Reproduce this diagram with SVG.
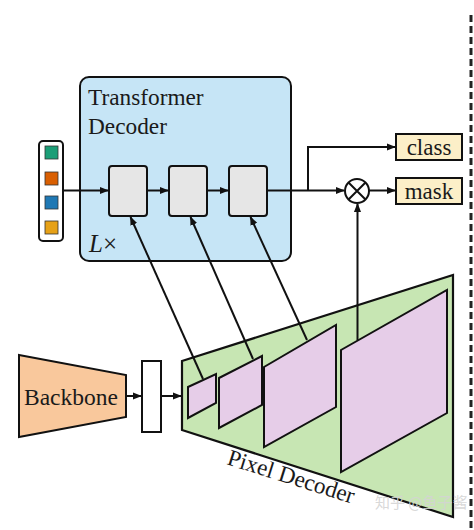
<svg xmlns="http://www.w3.org/2000/svg" width="474" height="530" viewBox="0 0 474 530">
<defs>
<marker id="ah" viewBox="0 0 10 10" refX="9" refY="5" markerWidth="4.5" markerHeight="4.5" orient="auto" markerUnits="strokeWidth"><path d="M0,1 L10,5 L0,9 z" fill="#111"/></marker>
<style>
.ln{fill:none;stroke:#111;stroke-width:2}
.t{font-family:"Liberation Serif","Times New Roman",serif;fill:#1a1a1a}
.blk{fill:#e6e6e6;stroke:#111;stroke-width:2}
.pk{fill:#e6cde8;stroke:#111;stroke-width:2;stroke-linejoin:miter}
.out{fill:#fcefc8;stroke:#111;stroke-width:2}
</style>
</defs>
<rect width="474" height="530" fill="#fff"/>
<line x1="471" y1="15" x2="471" y2="530" stroke="#222" stroke-width="3" stroke-dasharray="7 4"/>

<g id="transformer-decoder">
<rect x="80" y="77" width="211" height="184" rx="9" fill="#c6e5f6" stroke="#111" stroke-width="2"/>
<text class="t" x="88" y="105" font-size="23.3">Transformer</text>
<text class="t" x="88" y="134" font-size="23.3">Decoder</text>
<text class="t" x="89" y="252" font-size="25"><tspan font-style="italic">L</tspan>×</text>
</g>
<g id="queries">
<rect x="39" y="141" width="24" height="100" rx="4" fill="#fff" stroke="#111" stroke-width="2"/>
<rect x="45" y="146" width="13" height="13" fill="#1b9e77" stroke="#333" stroke-width="0.8"/>
<rect x="45" y="172" width="13" height="13" fill="#d95f02" stroke="#333" stroke-width="0.8"/>
<rect x="45" y="196" width="13" height="13" fill="#1f78b4" stroke="#333" stroke-width="0.8"/>
<rect x="45" y="221" width="13" height="13" fill="#e6a117" stroke="#333" stroke-width="0.8"/>
</g>
<g id="block1"><rect class="blk" x="109" y="166" width="38" height="50" rx="3"/></g>
<g id="block2"><rect class="blk" x="169" y="166" width="38" height="50" rx="3"/></g>
<g id="block3"><rect class="blk" x="229" y="166" width="38" height="50" rx="3"/></g>

<g id="class"><rect class="out" x="396" y="134" width="66" height="26"/><text class="t" x="429" y="155" font-size="23" text-anchor="middle">class</text></g>
<g id="mask"><rect class="out" x="396" y="178" width="66" height="26"/><text class="t" x="429" y="199" font-size="23" text-anchor="middle">mask</text></g>
<g id="multiply">
<circle cx="357" cy="191" r="12" fill="#fff" stroke="#111" stroke-width="2"/>
<path d="M348.5,182.5 L365.5,199.5 M365.5,182.5 L348.5,199.5" stroke="#111" stroke-width="2"/>
</g>

<g id="backbone">
<polygon points="19,355 126,375 126,417 19,437" fill="#f9c89c" stroke="#111" stroke-width="2"/>
<text class="t" x="71" y="405" font-size="23.5" text-anchor="middle">Backbone</text>
</g>
<g id="feature"><rect x="142" y="361" width="19" height="71" fill="#fff" stroke="#111" stroke-width="2"/></g>

<g id="pixel-decoder">
<polygon points="182,361 453,275 453,517 182,430" fill="#c7e6b3" stroke="#111" stroke-width="2.2"/>
<polygon class="pk" points="188,387 216,374 216,403 188,418"/>
<polygon class="pk" points="219,378 262,356 262,405 219,428"/>
<polygon class="pk" points="264,367 336,325 336,407 264,447"/>
<polygon class="pk" points="341,350 447,290 447,413 341,472"/>
<text class="t" x="226" y="464" font-size="23.2" transform="rotate(17.5 226 464)">Pixel Decoder</text>
</g>

<g id="connectors">
<line class="ln" x1="63" y1="190.5" x2="108" y2="190.5" marker-end="url(#ah)"/>
<line class="ln" x1="147" y1="190.5" x2="168" y2="190.5" marker-end="url(#ah)"/>
<line class="ln" x1="207" y1="190.5" x2="228" y2="190.5" marker-end="url(#ah)"/>
<line class="ln" x1="267" y1="190.5" x2="344" y2="190.5" marker-end="url(#ah)"/>
<polyline class="ln" points="308,190.5 308,147 395,147" marker-end="url(#ah)"/>
<line class="ln" x1="369" y1="190.5" x2="395" y2="190.5" marker-end="url(#ah)"/>
<line class="ln" x1="357.5" y1="340" x2="357.5" y2="204" marker-end="url(#ah)"/>
<line class="ln" x1="203" y1="379" x2="130.5" y2="217" marker-end="url(#ah)"/>
<line class="ln" x1="253" y1="359" x2="190.5" y2="217" marker-end="url(#ah)"/>
<line class="ln" x1="307" y1="340" x2="250.5" y2="217" marker-end="url(#ah)"/>
<line class="ln" x1="126" y1="396" x2="141" y2="396" marker-end="url(#ah)"/>
<line class="ln" x1="161" y1="396" x2="181" y2="396" marker-end="url(#ah)"/>
</g>
<text x="375" y="508" font-size="15" fill="#d4d4d4" fill-opacity="0.9" font-family="'Noto Sans CJK SC',sans-serif">知乎 @鱼子酱</text>
</svg>
